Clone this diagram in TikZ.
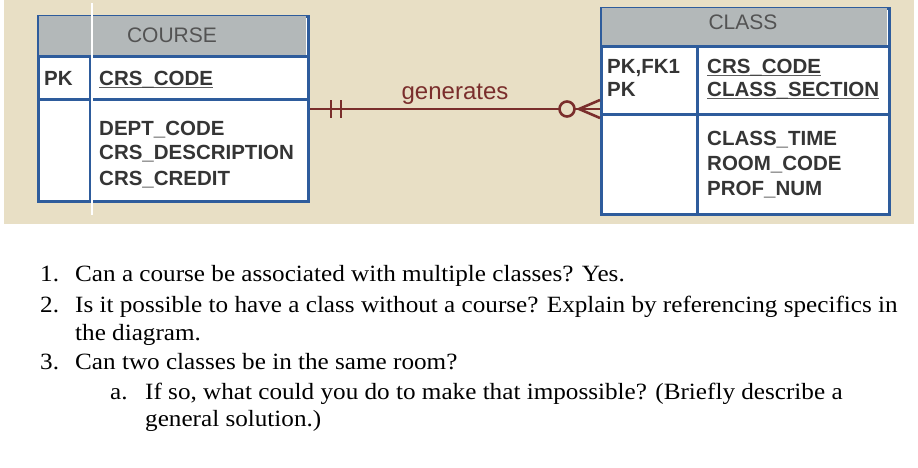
\documentclass[tikz,border=0pt]{standalone}
\usepackage{fontspec}
\setmainfont[FakeStretch=1.08]{Liberation Serif}
\newfontfamily\erfont{Liberation Sans}
\usetikzlibrary{positioning}
\definecolor{paper}{HTML}{E8DFC5}
\definecolor{tblblue}{HTML}{2E5C9C}
\definecolor{tblgray}{HTML}{B3B8B9}
\definecolor{relred}{HTML}{7A2E2C}
\definecolor{attrgray}{HTML}{353535}
\newcommand{\keyattr}[1]{\setbox0\hbox{#1}\rlap{\color{attrgray!80}\rule[-2.5pt]{\wd0}{1.3pt}}\box0}
\tikzset{table box/.style={draw=tblblue,line width=3pt,fill=white,inner sep=0pt,anchor=north west},
  table line/.style={draw=tblblue,line width=3pt},
  head text/.style={anchor=base,inner sep=0pt,text=attrgray!85,font=\erfont\fontsize{21}{24}\selectfont},
  attr text/.style={anchor=base west,inner sep=0pt,align=left,text=attrgray,font=\erfont\bfseries\fontsize{20.5}{25}\selectfont},
  rel line/.style={draw=relred,line width=2.6pt},
  question/.style={anchor=base west,inner sep=0pt,font=\fontsize{23.3}{25}\selectfont},}

\begin{document}
\begin{tikzpicture}[x=1pt,y=-1pt]
    \useasboundingbox (0,0) rectangle (918,468);
    \fill[white] (0,0) rectangle (918,468);
    \fill[paper] (4,0) rectangle (914,224);

    % COURSE table
    \node[table box,minimum width=270pt,minimum height=185pt] (course) at (37,15) {};
    \fill[tblgray] (38.5,16.5) rectangle (305.5,57);
    \draw[table line] (37,57) -- (307,57) (37,100) -- (307,100) (90,57) -- (90,200);
    \node[head text] (course-name) at (172,43) {COURSE};
    \node[attr text] (course-pk) at (44,86) {PK};
    \node[attr text] (course-key) at (99,86) {\keyattr{CRS\_CODE}};
    \node[attr text] (course-attr) at (99,185) {DEPT\_CODE\\CRS\_DESCRIPTION\\CRS\_CREDIT};
    \draw[white,line width=1.5pt] (92,3) -- (92,215);

    % CLASS table
    \node[table box,minimum width=288pt,minimum height=206pt] (class) at (600,7) {};
    \fill[tblgray] (601.5,8.5) rectangle (886.5,47);
    \draw[table line] (600,47) -- (888,47) (600,115) -- (888,115) (697,47) -- (697,213);
    \node[head text] (class-name) at (743,30) {CLASS};
    \node[attr text,font=\erfont\bfseries\fontsize{20.5}{23}\selectfont] (class-pk) at (607,97) {PK,FK1\\PK};
    \node[attr text,font=\erfont\bfseries\fontsize{20.5}{23}\selectfont] (class-key) at (707,97) {\keyattr{CRS\_CODE}\\\keyattr{CLASS\_SECTION}};
    \node[attr text] (class-attr) at (707,195) {CLASS\_TIME\\ROOM\_CODE\\PROF\_NUM};

    % relationship
    \coordinate (crow) at (class.west |- course.east);
    \draw[rel line] (course.east) -- (crow)
        node[midway,above=3pt,inner sep=0pt,text=relred,font=\erfont\fontsize{24}{26}\selectfont] (rel-name) {generates};
    \draw[rel line] ([xshift=21pt,yshift=-9pt]course.east) -- ([xshift=21pt,yshift=9pt]course.east);
    \draw[rel line] ([xshift=31pt,yshift=-9pt]course.east) -- ([xshift=31pt,yshift=9pt]course.east);
    \draw[rel line,fill=paper] ([xshift=-33pt]crow) circle (7.5pt);
    \draw[rel line] ([yshift=9pt]crow) -- ([xshift=-21pt]crow) -- ([yshift=-9pt]crow);

    % questions
    \node[question] (n1) at (40,281) {1.};
    \node[question] (q1) at (75,281) {Can a course be associated with multiple classes? Yes.};
    \node[question] (n2) at (40,312) {2.};
    \node[question] (q2) at (75,312) {Is it possible to have a class without a course? Explain by referencing specifics in};
    \node[question] (q2b) at (75,340) {the diagram.};
    \node[question] (n3) at (40,369) {3.};
    \node[question] (q3) at (75,369) {Can two classes be in the same room?};
    \node[question] (na) at (110,399) {a.};
    \node[question] (qa) at (145,399) {If so, what could you do to make that impossible? (Briefly describe a};
    \node[question] (qab) at (145,426) {general solution.)};
\end{tikzpicture}
\end{document}
